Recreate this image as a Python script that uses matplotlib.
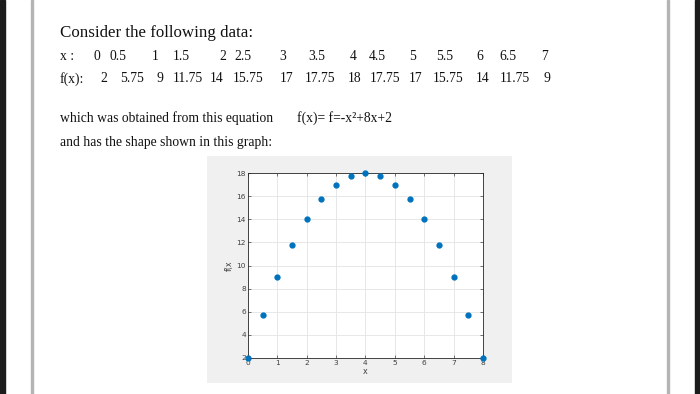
import matplotlib.pyplot as plt
from matplotlib.patches import Rectangle

# datos de la tabla del texto
x_tabla = ["0", "0.5", "1", "1.5", "2", "2.5", "3", "3.5", "4", "4.5", "5", "5.5", "6", "6.5", "7"]
f_tabla = ["2", "5.75", "9", "11.75", "14", "15.75", "17", "17.75", "18", "17.75", "17", "15.75", "14", "11.75", "9"]
x_pos_tabla = [97, 118, 155, 181, 223, 243, 283, 317, 353, 377, 413, 445, 480, 508, 545]
f_pos_tabla = [104, 132, 160, 188, 217, 248, 287, 320, 355, 385, 416, 448, 483, 515, 547]

# datos de la grafica
x = [0, 0.5, 1, 1.5, 2, 2.5, 3, 3.5, 4, 4.5, 5, 5.5, 6, 6.5, 7, 7.5, 8]
fx = [2, 5.75, 9, 11.75, 14, 15.75, 17, 17.75, 18, 17.75, 17, 15.75, 14, 11.75, 9, 5.75, 2]

W, H = 700, 394
fig = plt.figure(figsize=(7, 3.94), dpi=100, facecolor="white")

def px(x0, y0, w, h):
    # rectangulo en pixeles (desde arriba) -> coordenadas de figura
    return [x0 / W, (H - y0 - h) / H, w / W, h / H]

# bordes de la pagina
fig.patches.append(Rectangle((0, 0), 5 / W, 1, transform=fig.transFigure, color="#1c1c1c"))
fig.patches.append(Rectangle((695 / W, 0), 5 / W, 1, transform=fig.transFigure, color="#1c1c1c"))
fig.patches.append(Rectangle((31 / W, 0), 2 / W, 1, transform=fig.transFigure, color="#b4b4b4"))
fig.patches.append(Rectangle((667 / W, 0), 2 / W, 1, transform=fig.transFigure, color="#b4b4b4"))

# texto
serif = "Liberation Serif"
def t(xp, yp, s, size=9.8, ha="left"):
    fig.text(xp / W, 1 - yp / H, s, fontsize=size, family=serif, ha=ha, va="center", color="#111111")

t(60, 33, "Consider the following data:", size=12.2)
t(60, 56, "x :")
for s, p in zip(x_tabla, x_pos_tabla):
    t(p, 56, s, ha="center")
t(60, 79, "f(x):")
for s, p in zip(f_tabla, f_pos_tabla):
    t(p, 79, s, ha="center")
t(60, 118, "which was obtained from this equation")
t(297, 118, "f(x)= f=-x²+8x+2")
t(60, 142, "and has the shape shown in this graph:")

# panel gris de la figura de MATLAB
panel = fig.add_axes(px(207, 156, 305, 227), zorder=0)
panel.set_facecolor("#f0f0f0")
panel.set_xticks([])
panel.set_yticks([])
for sp in panel.spines.values():
    sp.set_visible(False)

ax = fig.add_axes(px(248, 173, 235, 185), zorder=1)
ax.set_facecolor("white")
ax.plot(x, fx, "o", color="#0072BD", markersize=3.5, clip_on=False, zorder=3)
ax.set_xlim(0, 8)
ax.set_ylim(2, 18)
ax.set_xticks(range(0, 9))
ax.set_yticks(range(2, 19, 2))
ax.grid(True, color="#e3e3e3", linewidth=0.6)
ax.set_axisbelow(True)
ax.tick_params(direction="in", top=True, right=True, labelsize=5.3, colors="#404040",
               length=2, width=0.5, pad=1.5)
for sp in ax.spines.values():
    sp.set_color("#262626")
    sp.set_linewidth(0.6)
ax.set_xlabel("x", fontsize=5.8, color="#404040", labelpad=1)
ax.set_ylabel("f(x", fontsize=5.8, color="#404040", labelpad=2)

fig.savefig("out.png", dpi=100)
